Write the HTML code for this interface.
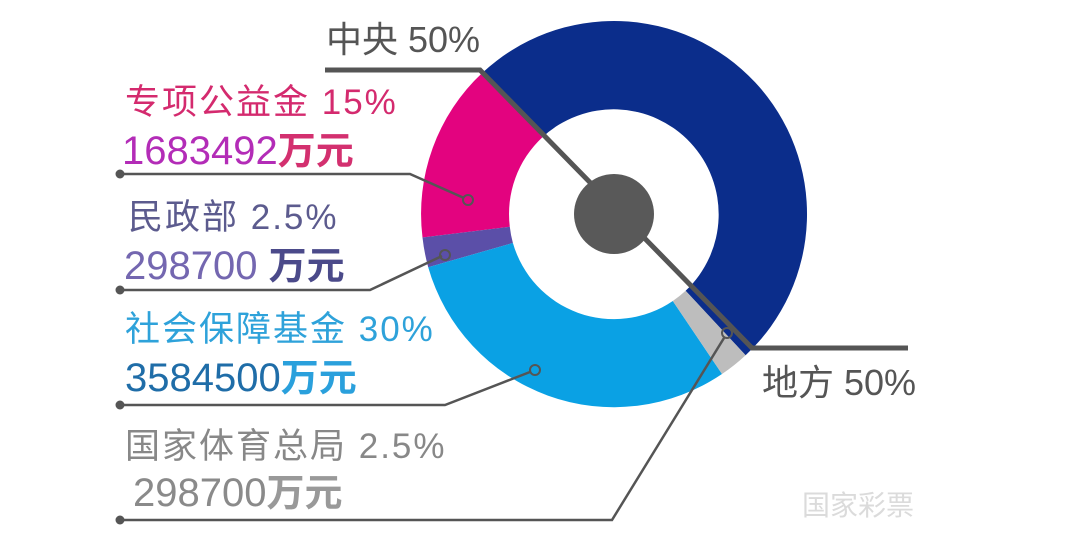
<!DOCTYPE html>
<html><head><meta charset="utf-8"><style>
html,body{margin:0;padding:0;background:#fff;}
svg{display:block;}
text{font-family:"Liberation Sans","Noto Sans CJK SC",sans-serif;}
.l1{letter-spacing:2px;}
</style></head><body>
<svg width="1080" height="556" viewBox="0 0 1080 556" xmlns="http://www.w3.org/2000/svg">
<path d="M482.4,72.8 A193,193 0 0 1 745.6,355.2 L685.6,290.8 A105,105 0 0 0 542.4,137.2 Z" fill="#0b2d8b"/>
<path d="M482.4,72.8 A193,193 0 0 0 422.5,237.5 L509.8,226.8 A105,105 0 0 1 542.4,137.2 Z" fill="#e3037f"/>
<path d="M422.5,237.5 A193,193 0 0 0 428.2,267.2 L512.9,243.0 A105,105 0 0 1 509.8,226.8 Z" fill="#5b4fa8"/>
<path d="M428.2,267.2 A193,193 0 0 0 722.0,374.0 L672.8,301.0 A105,105 0 0 1 512.9,243.0 Z" fill="#0aa1e4"/>
<path d="M722.0,374.0 A193,193 0 0 0 745.6,355.2 L685.6,290.8 A105,105 0 0 1 672.8,301.0 Z" fill="#bdbdbd"/>
<polyline points="325,70 480,70 752,348 908,348" fill="none" stroke="#555" stroke-width="5"/>
<circle cx="614" cy="214" r="40" fill="#595959"/>
<g fill="none" stroke="#555" stroke-width="2.5">
<polyline points="120,174 410,174 464,198"/>
<polyline points="120,290 370,290 442,256"/>
<polyline points="120,405 445,405 530,372"/>
<polyline points="120,520 612,520 724,338"/>
</g>
<g fill="#555">
<circle cx="120" cy="174" r="4.5"/><circle cx="120" cy="290" r="4.5"/>
<circle cx="120" cy="405" r="4.5"/><circle cx="120" cy="520" r="4.5"/>
</g>
<g fill="none" stroke="#555" stroke-width="2">
<circle cx="468" cy="200" r="5"/><circle cx="445" cy="255" r="5"/>
<circle cx="535" cy="370" r="5"/><circle cx="727" cy="333" r="5"/>
</g>
<text x="326" y="52" font-size="36" fill="#555">中央 50%</text>
<text x="762" y="395" font-size="36" fill="#555">地方 50%</text>
<text class="l1" x="125" y="114" font-size="35" fill="#d42a6e">专项公益金 15%</text>
<text x="122" y="164" font-size="40" fill="#b32cb7">1683492<tspan font-size="38" font-weight="bold" fill="#d3306f">万元</tspan></text>
<text class="l1" x="128" y="229" font-size="35" fill="#5c5b8e">民政部 2.5%</text>
<text x="124" y="279" font-size="40" fill="#7467b0">298700 <tspan font-size="38" font-weight="bold" fill="#4b4a8a">万元</tspan></text>
<text class="l1" x="125" y="341" font-size="35" fill="#2ea2da">社会保障基金 30%</text>
<text x="125" y="391" font-size="40" fill="#1f6da8">3584500<tspan font-size="38" font-weight="bold" fill="#2aa0dc">万元</tspan></text>
<text class="l1" x="125" y="458" font-size="35" fill="#888">国家体育总局 2.5%</text>
<text x="133" y="506" font-size="40" fill="#8a8a8a">298700<tspan font-size="38" font-weight="bold" fill="#999">万元</tspan></text>
<text x="802" y="515" font-size="28" fill="#ccc" opacity="0.7">国家彩票</text>
</svg>
</body></html>
